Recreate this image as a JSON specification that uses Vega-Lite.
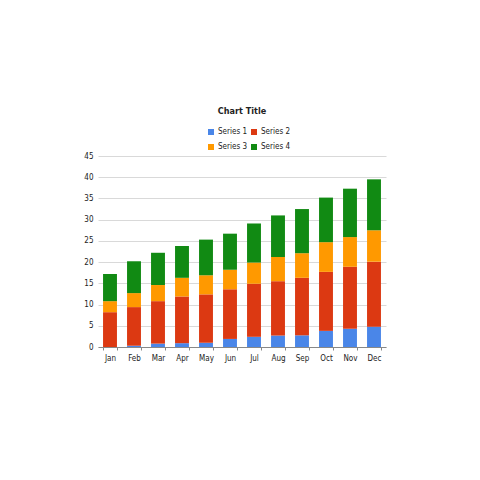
{
  "$schema": "https://vega.github.io/schema/vega-lite/v6.json",
  "autosize": "none",
  "padding": {"left": 98, "top": 156, "right": 94, "bottom": 133},
  "width": 288,
  "height": 191,
  "background": "white",
  "title": {
    "text": "Chart Title",
    "font": "DejaVu Sans Condensed, sans-serif",
    "fontSize": 9,
    "fontWeight": "bold",
    "color": "#222",
    "anchor": "middle",
    "offset": 12
  },
  "config": {
    "view": {"stroke": null},
    "font": "DejaVu Sans Condensed, sans-serif"
  },
  "data": {
    "values": [
      {"month": "Jan", "series": "Series 1", "value": 0},
      {"month": "Jan", "series": "Series 2", "value": 8.2},
      {"month": "Jan", "series": "Series 3", "value": 2.6},
      {"month": "Jan", "series": "Series 4", "value": 6.4},
      {"month": "Feb", "series": "Series 1", "value": 0.3},
      {"month": "Feb", "series": "Series 2", "value": 9.1},
      {"month": "Feb", "series": "Series 3", "value": 3.3},
      {"month": "Feb", "series": "Series 4", "value": 7.5},
      {"month": "Mar", "series": "Series 1", "value": 0.8},
      {"month": "Mar", "series": "Series 2", "value": 10.0},
      {"month": "Mar", "series": "Series 3", "value": 3.8},
      {"month": "Mar", "series": "Series 4", "value": 7.6},
      {"month": "Apr", "series": "Series 1", "value": 0.9},
      {"month": "Apr", "series": "Series 2", "value": 11.0},
      {"month": "Apr", "series": "Series 3", "value": 4.4},
      {"month": "Apr", "series": "Series 4", "value": 7.5},
      {"month": "May", "series": "Series 1", "value": 1.0},
      {"month": "May", "series": "Series 2", "value": 11.4},
      {"month": "May", "series": "Series 3", "value": 4.5},
      {"month": "May", "series": "Series 4", "value": 8.4},
      {"month": "Jun", "series": "Series 1", "value": 1.9},
      {"month": "Jun", "series": "Series 2", "value": 11.7},
      {"month": "Jun", "series": "Series 3", "value": 4.6},
      {"month": "Jun", "series": "Series 4", "value": 8.5},
      {"month": "Jul", "series": "Series 1", "value": 2.4},
      {"month": "Jul", "series": "Series 2", "value": 12.5},
      {"month": "Jul", "series": "Series 3", "value": 5.0},
      {"month": "Jul", "series": "Series 4", "value": 9.2},
      {"month": "Aug", "series": "Series 1", "value": 2.7},
      {"month": "Aug", "series": "Series 2", "value": 12.8},
      {"month": "Aug", "series": "Series 3", "value": 5.7},
      {"month": "Aug", "series": "Series 4", "value": 9.8},
      {"month": "Sep", "series": "Series 1", "value": 2.75},
      {"month": "Sep", "series": "Series 2", "value": 13.55},
      {"month": "Sep", "series": "Series 3", "value": 5.8},
      {"month": "Sep", "series": "Series 4", "value": 10.4},
      {"month": "Oct", "series": "Series 1", "value": 3.8},
      {"month": "Oct", "series": "Series 2", "value": 13.9},
      {"month": "Oct", "series": "Series 3", "value": 7.0},
      {"month": "Oct", "series": "Series 4", "value": 10.5},
      {"month": "Nov", "series": "Series 1", "value": 4.3},
      {"month": "Nov", "series": "Series 2", "value": 14.6},
      {"month": "Nov", "series": "Series 3", "value": 7.0},
      {"month": "Nov", "series": "Series 4", "value": 11.4},
      {"month": "Dec", "series": "Series 1", "value": 4.8},
      {"month": "Dec", "series": "Series 2", "value": 15.3},
      {"month": "Dec", "series": "Series 3", "value": 7.4},
      {"month": "Dec", "series": "Series 4", "value": 12.0}
    ]
  },
  "mark": {"type": "bar"},
  "encoding": {
    "x": {
      "field": "month",
      "type": "nominal",
      "sort": null,
      "scale": {"paddingInner": 0.42, "paddingOuter": 0.21},
      "axis": {
        "title": null,
        "labelAngle": 0,
        "labelFontSize": 8,
        "labelColor": "#222",
        "labelPadding": 4,
        "domainColor": "#888",
        "tickColor": "#888",
        "tickSize": 3,
        "tickBand": "extent"
      }
    },
    "y": {
      "field": "value",
      "type": "quantitative",
      "aggregate": "sum",
      "stack": "zero",
      "scale": {"domain": [0, 45], "nice": false},
      "axis": {
        "title": null,
        "values": [0, 5, 10, 15, 20, 25, 30, 35, 40, 45],
        "domain": false,
        "ticks": false,
        "labelFontSize": 8,
        "labelColor": "#222",
        "labelPadding": 5,
        "gridColor": "#d9d9d9"
      }
    },
    "color": {
      "field": "series",
      "type": "nominal",
      "scale": {
        "domain": ["Series 1", "Series 2", "Series 3", "Series 4"],
        "range": ["#4a86e8", "#dc3912", "#ff9900", "#118a13"]
      },
      "legend": {
        "title": null,
        "orient": "none",
        "legendX": 109,
        "legendY": -28,
        "direction": "horizontal",
        "columns": 2,
        "padding": 0,
        "symbolType": "square",
        "symbolSize": 36,
        "symbolStrokeWidth": 0,
        "labelOffset": 3,
        "labelFontSize": 8,
        "labelColor": "#222",
        "columnPadding": 3,
        "rowPadding": 7
      }
    },
    "order": {"field": "series", "sort": "ascending"}
  }
}
